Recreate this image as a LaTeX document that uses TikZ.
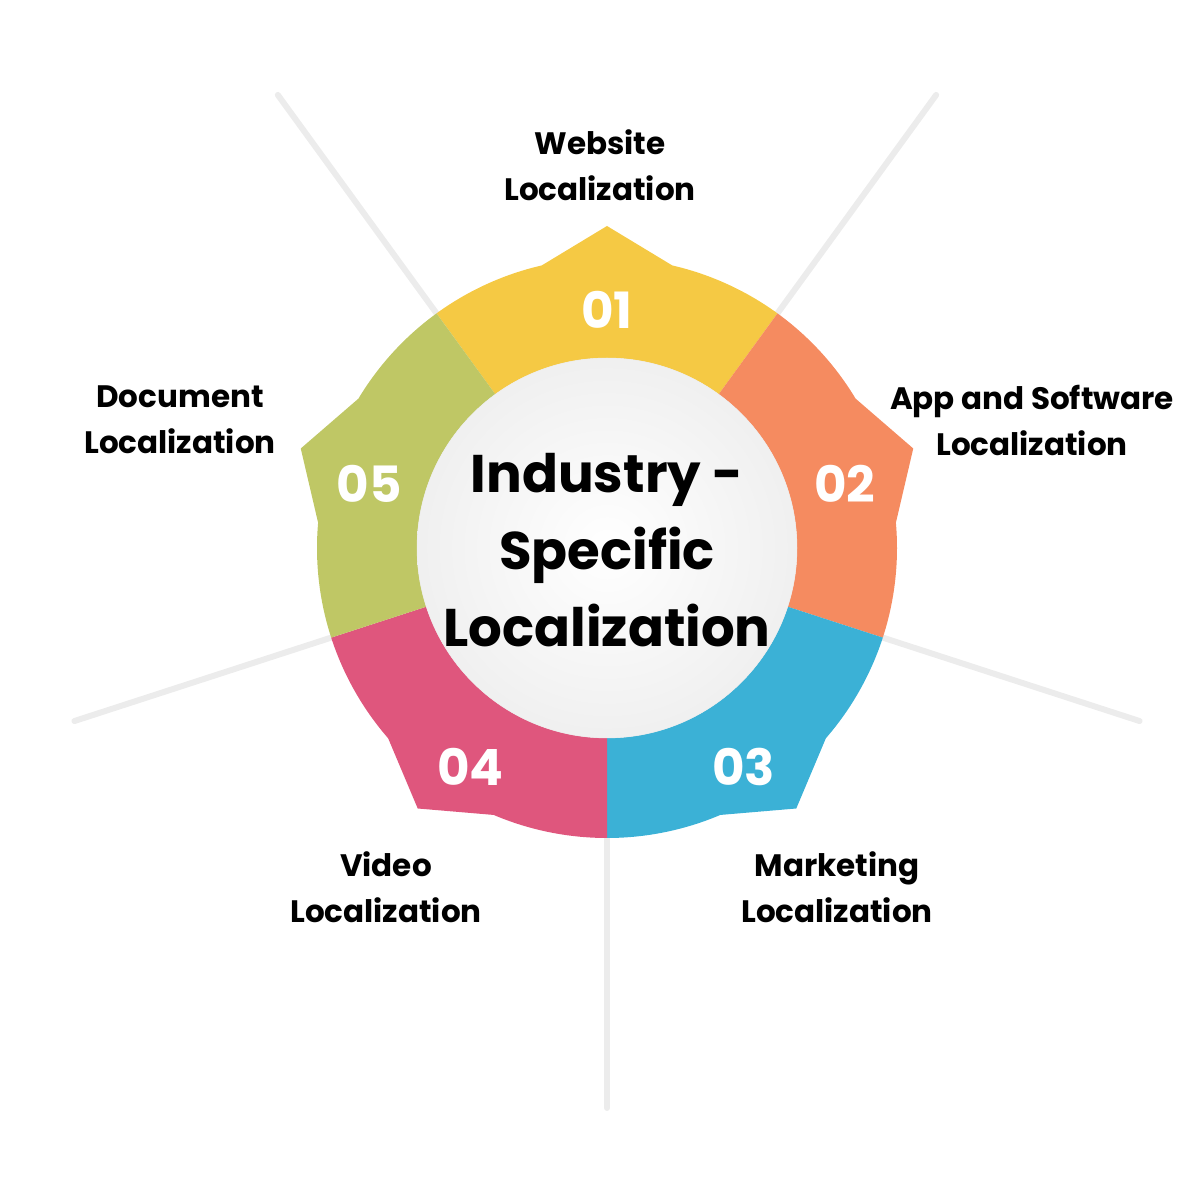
\documentclass[tikz,border=0pt]{standalone}
\usepackage{fontspec}
\setmainfont{Poppins}
\usetikzlibrary{calc,fadings}
\definecolor{webyellow}{HTML}{F5C944}
\definecolor{apporange}{HTML}{F58B60}
\definecolor{mktblue}{HTML}{3BB1D6}
\definecolor{vidpink}{HTML}{DF567D}
\definecolor{docolive}{HTML}{BFC765}
\tikzset{
  tabtext/.style={font=\bfseries\fontsize{31}{46}\selectfont, align=center, text=black},
  num/.style={font=\bfseries\fontsize{50}{50}\selectfont, text=white},
}
\begin{document}
\begin{tikzpicture}[x=1pt,y=1pt]
    \useasboundingbox (0,0) rectangle (1200,1200);
    \coordinate (c) at (607,652);

    % faint rays behind the wheel
    \foreach \a in {54,-18,-90,-162,126}
      \draw[gray!15, line width=6pt, line cap=round] ($(c)+(\a:290)$) -- ($(c)+(\a:560)$);

    % the five segments with their tabs
    \foreach \a/\col in {90/webyellow,18/apporange,-54/mktblue,-126/vidpink,162/docolive}
      \fill[\col] ($(c)+(\a-36:190)$) arc (\a-36:\a+36:190)
        -- ($(c)+(\a+36:290)$) arc (\a+36:\a+13:290)
        -- ($(c)+(\a:322)$) -- ($(c)+(\a-13:290)$)
        arc (\a-13:\a-36:290) -- cycle;

    % centre disc
    \shade[inner color=white, outer color=gray!12] (c) circle (190);
    \draw[gray!15] (c) circle (190);
    \node[font=\bfseries\fontsize{53}{77}\selectfont, align=center] (hub) at (607,650)
      {Industry -\\Specific\\Localization};

    % numbers
    \node[num] (n1) at ($(c)+(90:238)$) {01};
    \node[num] (n2) at ($(c)+(15:246)$) {02};
    \node[num] (n3) at ($(c)+(-58:258)$) {03};
    \node[num] (n4) at ($(c)+(-122:258)$) {04};
    \node[num] (n5) at ($(c)+(165:246)$) {05};

    % outer labels
    \node[tabtext] (l1) at (600,1035) {Website\\Localization};
    \node[tabtext] (l2) at (1032,780) {App and Software\\Localization};
    \node[tabtext] (l3) at (837,313) {Marketing\\Localization};
    \node[tabtext] (l4) at (386,313) {Video\\Localization};
    \node[tabtext] (l5) at (180,780) {Document\\Localization};
\end{tikzpicture}
\end{document}
